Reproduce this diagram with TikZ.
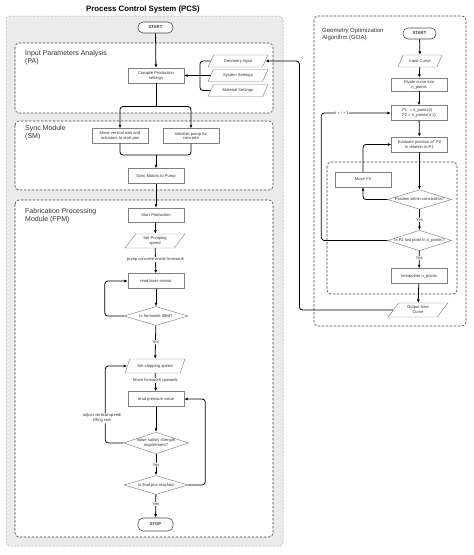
\documentclass[tikz,border=0pt]{standalone}
\usepackage{fontspec}
\setmainfont{Liberation Sans}
\usetikzlibrary{calc,shapes.geometric,arrows.meta}

\begin{document}
\begin{tikzpicture}[x=1pt, y=1pt,
    txt/.style={font=\fontsize{4.1}{4.9}\selectfont, text=black!80},
    box/.style={txt, rectangle, draw=black!50, fill=white, line width=0.45pt, minimum width=56pt, minimum height=15pt, inner sep=1pt, align=center},
    term/.style={rectangle, rounded corners=5pt, draw=black!70, fill=white, line width=0.6pt, minimum width=35pt, minimum height=11pt, font=\bfseries\fontsize{4.2}{5}\selectfont, text=black!80},
    io/.style={txt, trapezium, trapezium left angle=55, trapezium right angle=125, trapezium stretches=true, draw=black!50, fill=white, line width=0.45pt, minimum width=60pt, minimum height=12pt, inner sep=0.5pt, align=center},
    dec/.style={txt, diamond, aspect=3, draw=black!50, fill=white, line width=0.45pt, minimum width=64pt, minimum height=19pt, inner sep=0pt, align=center},
    pcsframe/.style={draw=black!35, fill=black!8, line width=0.5pt, dash pattern=on 2pt off 1.5pt, rounded corners=4pt},
    modframe/.style={draw=black!75, fill=white, line width=0.6pt, dash pattern=on 2.5pt off 1.5pt, rounded corners=4pt},
    modlbl/.style={anchor=north west, align=left, inner sep=0pt, font=\fontsize{7}{8.5}\selectfont, text=black!80},
    lbl/.style={txt, fill=white, inner sep=0.6pt, align=center},
    link/.style={draw=black, line width=0.8pt, rounded corners=3pt},
    arr/.style={link, -{Latex[length=3.5pt,width=3pt]}}]

    \useasboundingbox (0,0) rectangle (474,-555);

    \node[font=\bfseries\fontsize{7.8}{9}\selectfont] (title) at (143,-9.5) {Process Control System (PCS)};

    \draw[pcsframe] (6,-16) rectangle (283,-546);
    \draw[modframe] (15,-43) rectangle (273,-113);
    \draw[modframe] (15,-121) rectangle (273,-190);
    \draw[modframe] (15,-200) rectangle (273,-537);
    \draw[modframe] (314,-16) rectangle (466,-326);
    \draw[modframe] (327,-162) rectangle (457,-294);

    \node[modlbl] (palbl) at (25,-50) {Input Parameters Analysis\\ (PA)};
    \node[modlbl] (smlbl) at (25,-125) {Sync Module\\(SM)};
    \node[modlbl] (fpmlbl) at (25,-208) {Fabrication Processing\\Module (FPM)};
    \node[modlbl, font=\fontsize{6}{7}\selectfont] (goalbl) at (322,-28) {Geometry Optimization\\Algorithm (GOA)};

    % PCS
    \node[term] (start) at (155.5,-27.5) {START};

    \node[box] (compile) at (156,-75.5) {Compile Production\\settings};

    \node[io] (geo) at (238,-61) {Geometry Input};

    \node[io] (sys) at ($(geo) + (0,-14.5)$) {System Settings};

    \node[io] (mat) at ($(sys) + (0,-15)$) {Material Settings};

    \coordinate (brk) at (200,-75.5);
    \coordinate (split) at (156,-106.5);

    \node[box] (movev) at (120,-136) {Move vertical axis and\\actuators to start pos};

    \node[box] (initp) at ($(movev) + (71,0)$) {Initialize pump for\\concrete};

    \coordinate (merge) at (156,-155);

    \node[box] (sync) at (156,-176) {Sync Motors to Pump};

    \node[box, minimum height=14pt] (startp) at (156,-215) {Start Production};

    \node[io, minimum height=14pt] (setpump) at (155,-241) {Set Pumping\\speed};

    \node[box] (laser) at (156,-281) {read laser sensor};

    \node[dec] (filled) at (156,-316) {Is formwork filled?};

    \node[io, minimum height=14pt] (strip) at (155,-366) {Set stripping speed};

    \node[box] (pressure) at (156,-399) {read pressure value};

    \node[dec] (value) at (156,-443) {Value satisfy strength\\requirement?};

    \node[dec] (final) at (156,-485) {Is final pos reached};

    \node[term, minimum height=13pt] (stop) at (155.5,-524.5) {STOP};

    % GOA
    \node[term, minimum width=33pt] (gstart) at (419.5,-33.5) {START};

    \node[io, minimum width=44pt] (incurve) at (420,-61) {Input Curve};

    \node[box, minimum height=13pt] (divide) at (419,-84.5) {Divide curve into\\n\_points};

    \node[box, align=left] (pts) at (419,-113) {P1\ \ = n\_points(i)\\P2 = n\_points(i+1)};

    \node[box] (eval) at (419.5,-144.5) {Evaluate position of\ \ P2\\in relation to P1};

    \node[box] (movep2) at (363,-179.5) {Move P2};

    \node[dec] (constr) at (419.5,-199.5) {Position within constraints?};

    \node[dec] (last) at (419.5,-240.5) {Is P2 last point in n\_points?};

    \node[box] (interp) at (419,-276) {Interpolate n\_points};

    \node[io, minimum height=14pt] (outcurve) at (418,-310) {Output New\\Curve};

    \draw[arr] (start) -- (compile);
    \draw[link] (geo.west) -| (brk);
    \draw[link] (mat.west) -| (brk);
    \draw[arr] (sys.west) -- (compile.east);
    \draw[link] (compile) -- (split);
    \draw[arr] (split) -| (movev);
    \draw[arr] (split) -| (initp);
    \draw[link] (movev) |- (merge);
    \draw[link] (initp) |- (merge);
    \draw[arr] (merge) -- (sync);
    \draw[arr] (sync) -- (startp);
    \draw[arr] (startp) -- (setpump);
    \draw[arr] (setpump) -- node[lbl, pos=0.45] (pumplbl) {pump concrete inside formwork} (laser);
    \draw[arr] (laser) -- (filled);
    \draw[arr] (filled.west) -- ++(-19,0) |- (laser.west);
    \draw[arr] (filled) -- node[lbl] (yes1) {Yes} (strip);
    \draw[arr] (strip) -- node[lbl, pos=0.4] (movelbl) {Move formwork upwards} (pressure);
    \draw[arr] (pressure) -- (value);
    \draw[arr] (value.west) -- ++(-18,0) |- node[lbl, pos=0.16, xshift=-3pt] (adjlbl) {adjust vertical speed/\\filling rate} (strip.west);
    \draw[arr] (value) -- node[lbl] (yes2) {Yes} (final);
    \draw[arr] (final.east) -- ++(17,0) |- (pressure.east);
    \draw[arr] (final) -- node[lbl, pos=0.4] (yes3) {Yes} (stop);

    \draw[arr] (gstart) -- (incurve);
    \draw[arr] (incurve) -- (divide);
    \draw[arr] (divide) -- (pts);
    \draw[arr] (pts) -- (eval);
    \draw[arr] (eval) -- (constr);
    \draw[arr] (constr.west) -| (movep2.south);
    \draw[arr] (movep2.north) |- (eval.west);
    \draw[arr] (constr) -- node[lbl] (yes4) {Yes} (last);
    \draw[arr] (last.west) -- ++(-66,0) |- node[lbl, pos=0.65] (inc) {i = i + 1} (pts.west);
    \draw[arr] (last) -- node[lbl, pos=0.4] (yes5) {Yes} (interp);
    \draw[arr] (interp) -- (outcurve);
    \draw[arr] (outcurve.west) -| ($(geo.east) + (34,0)$) -- (geo.east);

\end{tikzpicture}
\end{document}
